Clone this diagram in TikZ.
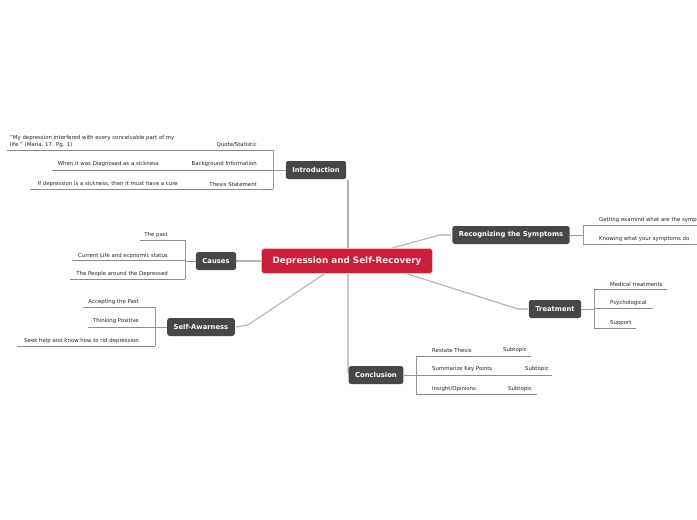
\documentclass[tikz,border=0pt]{standalone}
\usepackage{fontspec}
\setmainfont{DejaVu Sans}
\begin{document}
\begin{tikzpicture}[x=1pt,y=-1pt,
  topic/.style={fill=black!72,text=white,font=\fontsize{6.8}{7.5}\selectfont\bfseries,rounded corners=2.5pt,minimum height=18pt,inner xsep=6.5pt},
  central/.style={fill={rgb,255:red,200;green,32;blue,58},text=white!92!red,font=\fontsize{8.8}{10}\selectfont\bfseries,rounded corners=3pt,minimum width=171pt,minimum height=25pt,draw={rgb,255:red,240;green,190;blue,195},line width=0.6pt},
  leaf/.style={font=\fontsize{5.4}{6.6}\selectfont,inner sep=0pt,text=black!85},
  ln/.style={draw=black!45,line width=0.6pt},
  br/.style={draw=black!40,line width=0.7pt},
  main/.style={draw=black!30,line width=1.1pt}]
\clip (0,0) rectangle (697,520);
\fill[white] (0,0) rectangle (697,520);
% main connectors
\coordinate (ci) at (348,248);
\coordinate (cc) at (348,273);
\draw[main] (348,180) -- (ci);
\draw[main] (cc) -- (348,368) to[out=90,in=180] (350,375);
\draw[main] (262,261) -- (236,261);
\draw[main] (330,270) -- (248,325) -- (236,327);
\draw[main] (392,248) -- (440,235) -- (451,235);
\draw[main] (395,270) -- (518,309) -- (528,309);
% nodes
\node[central] (c) at (347,261) {Depression and Self-Recovery};
\node[topic] (intro) at (316,170) {Introduction};
\node[topic] (cause) at (216,261) {Causes};
\node[topic] (self) at (201,327) {Self-Awarness};
\node[topic] (rec) at (511,235) {Recognizing the Symptoms};
\node[topic] (treat) at (555,309) {Treatment};
\node[topic] (conc) at (376,375) {Conclusion};
% Introduction
\draw[br] (273,150) -- (273,189);
\draw[br] (intro.west) -- (273,170);
\draw[ln] (273,150) -- (7,150);
\draw[ln] (273,170) -- (52,170);
\draw[ln] (273,189) -- (30,189);
\node[leaf,anchor=east] (i1) at (257,145) {Quote/Statistic};
\node[leaf,anchor=west,align=left] (i1b) at (10,141.5) {"My depression interfered with every conceivable part of my\\life." (Maria, 17. Pg. 1)};
\node[leaf,anchor=east] (i2) at (257,164) {Background Information};
\node[leaf,anchor=east] (i2b) at (159,164) {When It was Diagnosed as a sickness};
\node[leaf,anchor=east] (i3) at (257,184) {Thesis Statement};
\node[leaf,anchor=east] (i3b) at (178,184) {If depression is a sickness, then it must have a cure};
% Causes
\draw[br] (185,240) -- (185,279);
\draw[br] (cause.west) -- (185,261);
\draw[ln] (185,240) -- (140,240);
\draw[ln] (185,260) -- (72,260);
\draw[ln] (185,279) -- (70,279);
\node[leaf,anchor=east] (k1) at (168,235) {The past};
\node[leaf,anchor=east] (k2) at (168,255) {Current Life and economic status};
\node[leaf,anchor=east] (k3) at (168,274) {The People around the Depressed};
% Self
\draw[br] (155,307) -- (155,346);
\draw[br] (self.west) -- (155,327);
\draw[ln] (155,307) -- (83,307);
\draw[ln] (155,327) -- (88,327);
\draw[ln] (155,346) -- (17,346);
\node[leaf,anchor=east] (s1) at (139,302) {Accepting the Past};
\node[leaf,anchor=east] (s2) at (139,321) {Thinking Positive};
\node[leaf,anchor=east] (s3) at (139,341) {Seek help and know how to rid depression};
% Recognizing
\draw[br] (rec.east) -- (583,235);
\draw[br] (583,225) -- (583,244);
\draw[ln] (583,225) -- (697,225);
\draw[ln] (583,244) -- (697,244);
\node[leaf,anchor=west] (r1) at (599,220) {Getting examind what are the symptoms};
\node[leaf,anchor=west] (r2) at (599,239) {Knowing what your symptoms do};
% Treatment
\draw[br] (treat.east) -- (594,309);
\draw[br] (594,289) -- (594,328);
\draw[ln] (594,289) -- (667,289);
\draw[ln] (594,308) -- (653,308);
\draw[ln] (594,328) -- (636,328);
\node[leaf,anchor=west] (t1) at (610,284) {Medical treatments};
\node[leaf,anchor=west] (t2) at (610,303) {Psychological};
\node[leaf,anchor=west] (t3) at (610,323) {Support};
% Conclusion
\draw[br] (conc.east) -- (416,375);
\draw[br] (416,356) -- (416,394);
\draw[ln] (416,356) -- (531,356);
\draw[ln] (416,375) -- (552,375);
\draw[ln] (416,394) -- (537,394);
\node[leaf,anchor=west] (o1) at (432,350) {Restate Thesis};
\node[leaf,anchor=west] (o1s) at (503,350) {Subtopic};
\node[leaf,anchor=west] (o2) at (432,369) {Summarize Key Points};
\node[leaf,anchor=west] (o2s) at (525,369) {Subtopic};
\node[leaf,anchor=west] (o3) at (432,389) {Insight/Opinions};
\node[leaf,anchor=west] (o3s) at (508,389) {Subtopic};
\end{tikzpicture}
\end{document}
